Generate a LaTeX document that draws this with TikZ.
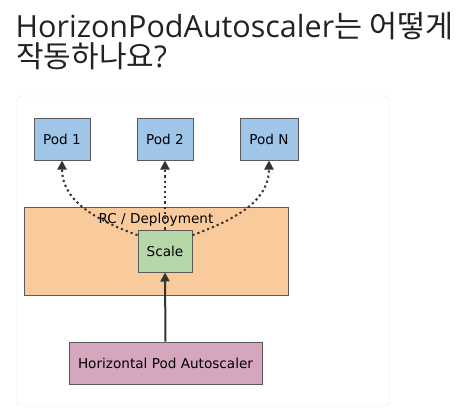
\documentclass[tikz,border=0pt]{standalone}
\usepackage{fontspec}
\setmainfont{DejaVu Sans}
\newfontfamily\titlefont{Open Sans}
\newfontfamily\kofont{Noto Sans CJK KR}
\usetikzlibrary{arrows.meta,calc}
\definecolor{podfill}{HTML}{9FC5E8}
\definecolor{rcfill}{HTML}{F9CB9C}
\definecolor{scalefill}{HTML}{B6D7A8}
\definecolor{hpafill}{HTML}{D5A6BD}
\definecolor{boxline}{HTML}{5A5A5A}
\definecolor{arrowgray}{HTML}{333333}
\definecolor{cardline}{HTML}{E4E4E4}
\definecolor{titleink}{HTML}{222222}
\begin{document}
\begin{tikzpicture}[x=1pt, y=-1pt,
    box/.style={draw=boxline, line width=1pt, minimum height=42pt, inner sep=0pt, font=\fontsize{13.6}{16}\selectfont},
    dots/.style={draw=arrowgray, line width=2pt, dash pattern=on 2.2pt off 3pt, -{Triangle[length=9pt,width=9pt]}},
    push/.style={draw=arrowgray, line width=2pt, -{Triangle[length=9pt,width=9pt]}}]
  \useasboundingbox (0, 0) rectangle (474, 413);
  \node[anchor=base west, inner sep=0pt, text=titleink, font=\fontsize{30.5}{32}\selectfont] (title1) at (15.5, 37) {{\titlefont HorizonPodAutoscaler}{\kofont 는 어떻게}};
  \node[anchor=base west, inner sep=0pt, text=titleink, font=\fontsize{30}{32}\selectfont] (title2) at (16, 67) {{\kofont 작동하나요}{\titlefont ?}};
  \draw[cardline, fill=white, rounded corners=4pt] (17, 96) rectangle (389, 406);
  \node[box, fill=podfill, minimum width=56pt] (pod1) at (62, 139) {Pod 1};
  \node[box, fill=podfill, minimum width=56pt] (pod2) at (165, 139) {Pod 2};
  \node[box, fill=podfill, minimum width=58pt] (podn) at (269, 139) {Pod N};
  \node[box, fill=rcfill, minimum width=264pt, minimum height=88pt] (rc) at (156, 251) {};
  \node[font=\fontsize{13.6}{16}\selectfont, inner sep=0pt] (rclabel) at (156, 220) {RC / Deployment};
  \node[box, fill=scalefill, minimum width=54pt] (scale) at (165, 251) {Scale};
  \node[box, fill=hpafill, minimum width=193pt] (hpa) at (165.5, 363) {Horizontal Pod Autoscaler};
  \draw[dots] (scale.150) to[out=160, in=-90] (pod1.south);
  \draw[dots] (scale.north) -- (pod2.south);
  \draw[dots] (scale.30) to[out=20, in=-90] (podn.south);
  \draw[push] (hpa.north) -- (scale.south);
\end{tikzpicture}
\end{document}
